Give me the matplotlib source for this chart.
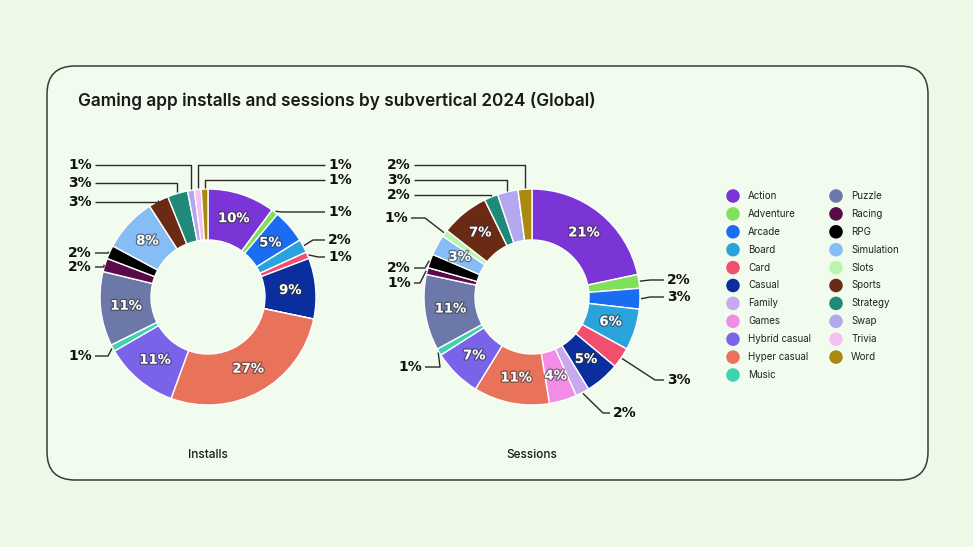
import matplotlib
matplotlib.use('Agg')
import matplotlib.pyplot as plt
import matplotlib.patheffects as pe
from matplotlib.patches import FancyBboxPatch
import numpy as np

# categories in legend order
categories = ['Action', 'Adventure', 'Arcade', 'Board', 'Card', 'Casual', 'Family', 'Games',
              'Hybrid casual', 'Hyper casual', 'Music', 'Puzzle', 'Racing', 'RPG', 'Simulation',
              'Slots', 'Sports', 'Strategy', 'Swap', 'Trivia', 'Word']
colors = ['#7b35d6', '#7fe05a', '#1a6cf0', '#2aa3dd', '#f0506e', '#0a2e9e', '#c9a8f0', '#f28ce6',
          '#7a63e8', '#e8735a', '#3dd3b0', '#6b78a8', '#5a0a4a', '#000000', '#86bdf5',
          '#b8f5b0', '#6b2a14', '#1f8a7a', '#b3a8f0', '#f5c0f0', '#a88a10']

installs = [10, 1, 5, 2, 1, 9, 0, 0, 11, 27, 1, 11, 2, 2, 8, 0, 3, 3, 1, 1, 1]
sessions = [21, 2, 3, 6, 3, 5, 2, 4, 7, 11, 1, 11, 1, 2, 3, 1, 7, 2, 3, 0, 2]

# the donuts put Hyper casual before Hybrid casual
pie_order = ['Action', 'Adventure', 'Arcade', 'Board', 'Card', 'Casual', 'Family', 'Games',
             'Hyper casual', 'Hybrid casual', 'Music', 'Puzzle', 'Racing', 'RPG', 'Simulation',
             'Slots', 'Sports', 'Strategy', 'Swap', 'Trivia', 'Word']

# outside labels: name -> (text x, text y, elbow x) in pixels; elbow None = vertical leader
inst_out = {'Swap': (92, 165, None), 'Strategy': (92, 183, None), 'Sports': (92, 202, None),
            'RPG': (92, 253, 108), 'Racing': (92, 267, 104), 'Music': (92, 356, 108),
            'Trivia': (328, 165, None), 'Word': (328, 180, None), 'Adventure': (328, 212, 282),
            'Board': (328, 240, 313), 'Card': (328, 257, 318)}
sess_out = {'Word': (411, 165, None), 'Swap': (411, 180, None), 'Strategy': (411, 195, None),
            'Slots': (408, 218, 425), 'RPG': (411, 268, 425), 'Racing': (411, 283, 420),
            'Music': (422, 367, 440),
            'Adventure': (667, 280, 650), 'Arcade': (667, 297, 650),
            'Card': (667, 380, 655), 'Family': (613, 413, 603)}

W, H = 973, 547
bg = '#edf8e7'
fig = plt.figure(figsize=(9.73, 5.47), dpi=100, facecolor=bg)
ax = fig.add_axes([0, 0, 1, 1])
ax.set_facecolor(bg)

box = FancyBboxPatch((47 + 28, H - 480 + 28), 881 - 56, 414 - 56,
                     boxstyle='round,pad=28', facecolor='#f1fbee', edgecolor='#3a3a3a', lw=1.1)
ax.add_patch(box)

ax.text(78, H - 101, 'Gaming app installs and sessions by subvertical 2024 (Global)',
        fontsize=12.4, family='Inter', weight='semibold', color='#1a1a1a', va='center')

pct_font = dict(family=['Liberation Sans Narrow', 'DejaVu Sans'], weight='bold')
R, RIN = 108, 57


def donut(values, cx, cy, outside, title):
    vals = [values[categories.index(n)] for n in pie_order]
    cols = [colors[categories.index(n)] for n in pie_order]
    wedges, _ = ax.pie(vals, colors=cols, startangle=90, counterclock=False,
                       center=(cx, H - cy), radius=R,
                       wedgeprops=dict(width=R - RIN, edgecolor='white', linewidth=1))
    for name, v, w in zip(pie_order, vals, wedges):
        if v == 0:
            continue
        ang = np.deg2rad((w.theta1 + w.theta2) / 2)
        if name in outside:
            tx, ty, ex = outside[name]
            axp = cx + (R + 1) * np.cos(ang)
            ayp = cy - (R + 1) * np.sin(ang)
            left = tx < cx
            endx = tx + 3 if left else tx - 3
            if ex is None:
                xs, ys = [axp, axp, endx], [ayp, ty, ty]
            else:
                xs, ys = [axp, ex, endx], [ayp, ty, ty]
            ax.plot(xs, [H - y for y in ys], color='#2a2a2a', lw=1, solid_capstyle='butt')
            ax.text(tx, H - ty, f'{v}%', ha='right' if left else 'left', va='center',
                    fontsize=10, color='#111111', **pct_font)
        else:
            rm = (R + RIN) / 2
            t = ax.text(cx + rm * np.cos(ang), H - cy + rm * np.sin(ang), f'{v}%',
                        ha='center', va='center', fontsize=9.5, color='white', **pct_font)
            t.set_path_effects([pe.withStroke(linewidth=1.8, foreground='#33333399')])
    ax.text(cx, H - 455, title, ha='center', va='center', fontsize=8.5,
            family='Inter', weight='medium', color='#1a1a1a')


donut(installs, 208, 297, inst_out, 'Installs')
donut(sessions, 532, 297, sess_out, 'Sessions')

# legend, two columns
for i, (name, c) in enumerate(zip(categories, colors)):
    col, row = (0, i) if i < 11 else (1, i - 11)
    mx = 733 if col == 0 else 836
    my = 196 + row * 17.9
    ax.scatter([mx], [H - my], s=95, color=c, edgecolor='none')
    ax.text(mx + 15, H - my, name, fontsize=7, family='Inter', color='#222222', va='center')

ax.set_xlim(0, W)
ax.set_ylim(0, H)
ax.set_aspect('auto')
ax.axis('off')

fig.savefig('out.png', dpi=100, facecolor=bg)
